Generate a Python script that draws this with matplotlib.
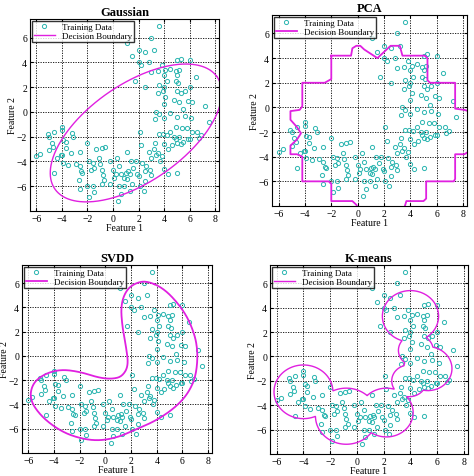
import numpy as np
import matplotlib
matplotlib.use("Agg")
import matplotlib.pyplot as plt

plt.rcParams['font.family'] = ['Liberation Serif', 'DejaVu Serif']

# training data
train_x = [3.6, 1.1, 3.0, 2.0, 2.5, 3.2, 1.5, 2.0, 2.2, 2.8, 3.0, 3.5, 3.8, 4.1, 4.5, 4.9, 5.0, 5.2, 5.0, 5.3,
           6.0, 4.0, 3.6, 4.0, 4.2, 4.9, 5.1, 2.5, 1.7, 3.5, 3.9, 4.1, 4.0, 5.0, 5.3, 5.6, 6.0, 6.5, 5.2, 4.8,
           5.5, 5.9, 6.2, 7.2, 3.4, 3.6, 3.3, 4.0, 4.5, 5.0, 5.6, 6.1, 7.5, 4.9, 5.4, 5.8, 6.2, 6.6, 6.9, 3.6,
           3.9, 4.2, 4.5, 4.8, 5.2, 5.5, 5.9, 6.0, 6.7, 2.1, 2.2, 2.8, 3.3, 3.5, 3.8, 4.0, 4.3, 4.6, 5.0, 5.3,
           3.0, 3.4, 3.7, 4.0, 4.3, 5.0, 3.2, 4.9,
           -6.0, -5.7, -5.0, -5.0, -5.1, -4.6, -4.8, -4.7, -4.4, -4.1, -4.0, -4.0, -4.0, -3.9, -3.7, -3.7, -3.5,
           -3.2, -3.1, -3.3, -4.6, -3.9, -2.9, -2.6, -2.6, -2.5, -2.4, -2.7, -2.6, -2.0, -1.9, -2.0, -1.9, -1.6,
           -1.5, -1.7, -1.3, -1.1, -1.0, -0.9, -0.8, -0.7, -0.9, -0.9, -0.6, -1.6, -1.5, -0.2, 0.0, 0.1, 0.2,
           0.3, 0.5, 0.6, 0.5, 0.4, 0.6, 0.9, 1.0, 1.1, 1.2, 1.3, 1.1, 1.4, 1.6, 1.5, 1.8, 1.9, 2.0, 2.1, 2.3,
           2.5, 2.5, 2.6, 2.9, 3.0, 2.4, 1.3, 0.9, -0.2]
train_y = [6.9, 5.6, 6.0, 5.0, 4.8, 5.0, 4.5, 4.0, 3.8, 4.0, 3.2, 3.3, 3.8, 3.4, 3.5, 3.3, 3.0, 3.4, 4.2, 4.3,
           4.2, 3.0, 2.2, 2.0, 2.5, 2.5, 2.3, 2.0, 2.5, 1.5, 1.7, 1.2, 0.6, 1.7, 1.5, 1.7, 2.0, 2.8, 0.8, 1.0,
           0.2, 0.9, 0.8, 0.5, 0.0, -0.2, -0.6, -0.5, -0.1, -0.4, -0.3, -0.5, -0.8, -1.2, -1.3, -1.3, -1.6, -1.6,
           -1.9, -1.8, -1.8, -1.9, -1.6, -2.0, -2.0, -2.4, -2.2, -2.2, -2.1, -1.6, -2.7, -3.2, -2.5, -3.3, -3.6,
           -2.6, -3.0, -2.7, -2.5, -2.6, -3.7, -3.5, -4.0, -4.6, -5.0, -4.9, -3.0, -2.2,
           -3.6, -3.4, -3.1, -2.0, -1.8, -1.6, -2.5, -2.8, -3.7, -3.5, -3.5, -1.2, -1.5, -2.3, -2.4, -2.9, -4.3,
           -1.7, -2.0, -3.3, -4.9, -4.1, -4.2, -3.2, -4.4, -4.8, -4.9, -5.5, -6.2, -6.0, -6.9, -2.5, -4.0, -4.1,
           -4.5, -4.7, -3.0, -3.7, -4.2, -4.7, -5.1, -5.5, -5.8, -2.9, -2.8, -6.0, -6.5, -4.0, -4.7, -5.3, -5.0,
           -3.7, -4.4, -5.0, -6.0, -7.2, -6.6, -5.3, -4.9, -5.4, -4.8, -5.0, -3.2, -4.0, -4.5, -5.8, -4.0, -5.0,
           -5.2, -6.0, -4.1, -4.8, -5.6, -4.4, -4.7, -5.1, -6.4, -6.4, -6.0, -5.8]

# Gaussian boundary: ellipse centre, half-axes, angle (deg)
gauss_center = (1.8, -1.7)
gauss_axes = (7.8, 3.9)
gauss_angle = 36

# PCA boundary vertices
pca_x = [-2.0, -2.0, -2.5, -4.2, -4.2, -4.4, -5.1, -5.1, -4.6, -4.3, -4.6, -5.1, -5.1, -4.6, -4.2, -4.2,
         -2.2, -2.0, -2.0, -0.4, -0.1, 0.1, 3.5, 3.7, 5.0, 5.2, 5.2, 7.3, 7.4, 7.4, 8.1, 8.4, 8.4, 8.1, 7.4,
         7.4, 5.5, 5.3, 5.3, 5.1, 3.4, 3.2, 2.5, 1.5, 0.5, 0.2, -0.1, -0.4, -0.5, -2.0]
pca_y = [4.2, 2.3, 2.0, 2.0, 0.1, -0.2, -0.3, -1.0, -1.6, -2.1, -2.6, -3.1, -3.8, -3.8, -4.0, -6.0,
         -6.0, -6.2, -7.6, -7.6, -7.9, -8.3, -8.3, -7.6, -7.6, -7.4, -6.0, -6.0, -5.8, -3.8, -3.8, -3.6,
         -0.3, -0.2, -0.1, 2.0, 2.0, 2.2, 4.0, 4.2, 4.2, 5.0, 5.0, 4.0, 4.7, 5.0, 5.0, 4.8, 4.2, 4.2]

# SVDD boundary control points
svdd_x = [3.2, 4.5, 5.7, 6.6, 7.2, 7.1, 6.5, 5.5, 4.0, 2.5, 1.0, -0.5, -2.0, -3.5, -5.0, -5.9, -5.7, -4.8,
          -3.5, -2.0, -0.5, 0.5, 1.3, 1.8, 1.6, 1.3, 1.2, 1.6, 2.3]
svdd_y = [6.2, 5.6, 4.3, 2.8, 0.8, -1.5, -3.0, -4.2, -5.3, -6.0, -6.7, -7.0, -6.8, -6.2, -5.0, -3.6, -2.3,
          -1.5, -1.1, -1.3, -1.8, -1.9, -1.7, -0.8, 0.8, 2.5, 4.2, 5.4, 6.0]

# K-means centres and radii
km_x = [4.0, 4.4, 5.3, 3.9, 2.2, -0.8, -4.0]
km_y = [3.3, 0.5, -1.0, -2.0, -4.6, -4.9, -2.9]
km_r = [2.1, 1.3, 1.8, 1.3, 2.0, 2.3, 2.2]

teal = '#2bb5b0'
mag = '#e020e0'


def chaikin(x, y, n=4):
    p = np.column_stack([x, y])
    for _ in range(n):
        q = np.roll(p, -1, axis=0)
        p = np.column_stack([0.75 * p + 0.25 * q, 0.25 * p + 0.75 * q]).reshape(-1, 2)
    p = np.vstack([p, p[:1]])
    return p[:, 0], p[:, 1]


def setup(ax, title):
    ax.plot(train_x, train_y, 'o', mfc='none', mec=teal, ms=3, mew=0.7, label='Training Data')
    ax.set_xlim(-6.5, 8.3)
    ax.set_ylim(-8, 7.5)
    ax.set_xticks(range(-6, 9, 2))
    ax.set_yticks(range(-6, 7, 2))
    ax.grid(True, color='black', linestyle=(0, (1.5, 1.5)), linewidth=0.6)
    ax.tick_params(labelsize=7, length=2, direction='in', top=True, right=True, pad=2)
    ax.set_xlabel('Feature 1', fontsize=7, labelpad=0)
    ax.set_ylabel('Feature 2', fontsize=7, labelpad=0)
    ax.set_title(title, fontsize=9, fontweight='bold', pad=3)


def legend(ax):
    lg = ax.legend(loc='upper left', fontsize=6.5, fancybox=False, edgecolor='black',
                   borderpad=0.2, handlelength=2.4, labelspacing=0.1, borderaxespad=0.2)
    lg.get_frame().set_linewidth(1.0)


fig = plt.figure(figsize=(4.74, 4.77), dpi=100)
W, H = 474, 477


def axes_px(l, r, t, b):
    return fig.add_axes([l / W, 1 - b / H, (r - l) / W, (b - t) / H])


# Gaussian
ax = axes_px(30, 219, 20, 212)
setup(ax, 'Gaussian')
t = np.linspace(0, 2 * np.pi, 400)
a, b = gauss_axes
th = np.deg2rad(gauss_angle)
ex = gauss_center[0] + a * np.cos(t) * np.cos(th) - b * np.sin(t) * np.sin(th)
ey = gauss_center[1] + a * np.cos(t) * np.sin(th) + b * np.sin(t) * np.cos(th)
ax.plot(ex, ey, color=mag, lw=1, label='Decision Boundary')
legend(ax)

# PCA
ax = axes_px(272, 467, 16, 207)
setup(ax, 'PCA')
ax.plot(pca_x + pca_x[:1], pca_y + pca_y[:1], color=mag, lw=1.3, label='Decision Boundary')
legend(ax)

# SVDD
ax = axes_px(22, 212, 266, 454)
setup(ax, 'SVDD')
sx, sy = chaikin(svdd_x, svdd_y)
ax.plot(sx, sy, color=mag, lw=1.3, label='Decision Boundary')
legend(ax)

# K-means
ax = axes_px(270, 468, 266, 455)
setup(ax, 'K-means')
gx, gy = np.meshgrid(np.linspace(-7, 9, 500), np.linspace(-9, 8, 500))
d = np.min([np.hypot(gx - cx, gy - cy) / r for cx, cy, r in zip(km_x, km_y, km_r)], axis=0)
ax.contour(gx, gy, d, levels=[1.0], colors=mag, linewidths=1)
ax.plot([], [], color=mag, lw=1, label='Decision Boundary')
legend(ax)

fig.savefig('out.png', dpi=100)
